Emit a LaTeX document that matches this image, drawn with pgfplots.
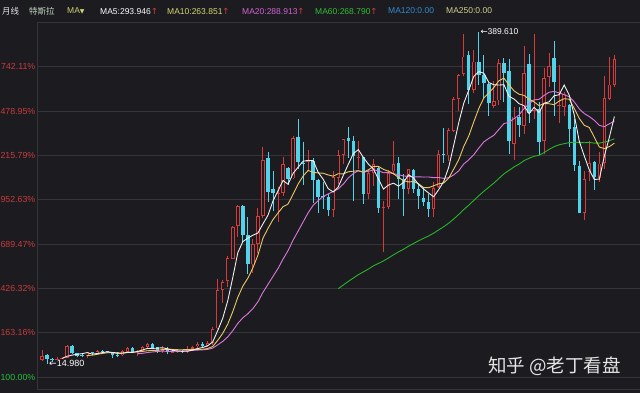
\documentclass[border=0pt]{standalone}
\usepackage{fontspec}
\setmainfont{Liberation Sans}
\newfontfamily\cjk{Noto Sans CJK SC}
\newfontfamily\dejavu{DejaVu Sans}
\usepackage{pgfplots}
\usepackage{pgfplotstable}
\pgfplotsset{compat=1.18}
\definecolor{bg}{RGB}{27,27,32}
\definecolor{gridc}{RGB}{52,52,58}
\definecolor{upc}{RGB}{214,58,58}
\definecolor{dnc}{RGB}{80,212,236}
\definecolor{ma5}{RGB}{240,240,240}
\definecolor{ma10}{RGB}{236,200,100}
\definecolor{ma20}{RGB}{222,120,222}
\definecolor{ma60}{RGB}{40,180,40}
\definecolor{tickred}{RGB}{200,60,60}
\definecolor{tickgreen}{RGB}{40,190,60}
\definecolor{hdr10}{RGB}{215,215,110}
\definecolor{hdr20}{RGB}{210,100,210}
\definecolor{hdr60}{RGB}{50,190,50}
\definecolor{hdr120}{RGB}{50,140,210}
\definecolor{hdr250}{RGB}{210,210,140}
\definecolor{hdrma}{RGB}{210,210,120}

% rising months (hollow red)
\pgfplotstableread{
i o h l c
0 19.00 30.42 17.54 23.83
3 19.70 22.15 19.30 20.41
4 20.50 22.00 20.00 21.84
5 21.90 36.42 21.20 35.33
9 23.90 28.60 21.70 27.75
11 27.30 30.80 26.30 29.80
16 24.30 30.50 23.20 29.00
17 28.80 34.00 27.50 32.70
19 28.90 30.00 24.00 29.07
20 29.10 35.00 28.60 33.47
21 33.60 38.00 33.00 37.24
24 29.50 34.60 27.00 31.29
26 28.00 30.50 26.90 28.52
27 28.70 30.50 27.10 29.28
29 28.30 34.50 27.50 32.13
30 32.00 35.00 31.50 33.87
31 35.00 39.50 33.30 37.51
33 35.00 41.20 33.70 37.89
34 38.30 56.00 36.30 53.99
35 54.80 110.33 54.50 97.76
36 98.00 109.90 83.50 107.47
37 108.00 136.90 101.80 134.28
38 133.60 170.80 133.00 169.00
39 170.00 193.90 158.00 193.37
42 127.00 156.00 117.30 150.43
43 149.80 190.80 139.60 181.41
44 182.00 260.00 179.00 244.81
47 206.00 214.00 175.00 207.77
48 208.00 248.00 204.00 240.06
50 224.00 272.00 223.00 269.70
53 243.00 256.00 233.00 244.52
58 189.00 232.00 180.00 226.05
59 225.00 256.00 218.00 250.80
60 251.00 268.50 240.00 268.26
63 248.00 266.00 235.00 248.40
65 207.00 235.00 201.00 230.26
66 230.00 246.00 216.00 240.01
68 191.00 199.00 141.05 191.93
69 192.00 234.00 190.00 229.77
70 232.00 266.00 228.00 240.76
73 212.00 235.00 206.00 234.79
78 190.00 220.00 181.00 213.69
79 214.00 256.00 213.00 251.93
81 250.00 281.00 244.00 278.30
82 278.00 316.00 277.00 314.07
83 314.00 342.00 300.00 341.01
84 342.00 387.00 340.00 361.61
86 324.00 369.00 320.00 355.90
90 306.00 334.00 303.00 311.35
91 312.00 359.00 307.00 354.31
94 263.00 305.00 244.60 293.90
96 283.00 373.00 274.00 342.95
98 300.00 387.46 291.00 301.66
100 266.00 349.00 251.30 337.32
101 339.00 366.00 327.00 350.48
103 306.00 352.00 287.00 307.02
104 305.00 322.00 295.00 319.88
108 185.00 233.00 177.00 223.46
109 231.00 266.00 221.00 241.61
111 224.00 254.00 220.00 240.87
112 242.00 340.00 235.00 314.92
113 314.00 361.00 313.00 329.94
114 330.00 363.00 327.00 358.39
}\upT

% falling months (filled cyan)
\pgfplotstableread{
i o h l c
1 25.00 25.92 14.98 19.94
2 20.50 21.55 17.40 19.48
6 35.40 35.90 25.90 26.63
7 26.80 27.40 22.30 24.10
8 24.60 25.90 22.60 23.90
10 27.90 28.60 24.80 27.04
12 29.90 30.50 26.00 29.13
13 29.30 29.90 26.70 28.23
14 28.40 28.60 21.60 24.55
15 24.60 28.40 22.80 24.39
18 32.40 33.40 26.90 28.56
22 37.00 38.00 32.00 33.25
23 33.50 34.00 27.60 29.80
25 31.30 34.00 25.50 27.90
28 29.30 30.00 26.80 28.13
32 37.60 39.80 32.50 34.93
40 193.50 194.50 151.20 159.94
41 160.30 180.10 116.10 127.28
45 247.00 254.00 198.00 208.45
46 212.00 233.00 187.00 207.89
49 236.00 236.50 217.00 223.30
51 271.00 291.40 235.00 242.68
52 242.00 265.00 217.00 241.70
54 244.00 247.00 196.00 222.41
55 222.00 223.00 185.00 203.60
56 204.00 220.00 190.00 203.34
57 203.00 206.00 181.40 188.77
61 270.00 282.00 247.00 266.15
62 266.00 272.00 199.00 249.06
64 248.00 248.50 195.00 206.93
67 236.00 238.00 185.00 191.20
71 241.00 248.00 201.00 223.23
72 223.00 229.00 182.00 212.28
74 234.00 235.00 208.00 212.01
75 212.00 219.00 190.00 204.03
76 202.00 214.00 193.00 197.73
77 198.00 207.00 181.00 189.40
80 252.00 281.00 242.00 249.99
85 363.00 368.00 308.00 323.47
87 355.00 389.61 329.00 341.10
88 341.00 363.00 315.00 331.53
89 331.00 332.00 295.00 308.85
92 354.00 360.00 310.00 343.06
93 345.00 359.00 252.00 266.13
95 293.00 305.00 271.00 284.73
97 353.00 364.00 287.00 298.14
99 302.00 310.00 250.60 264.77
102 360.00 379.50 295.00 332.80
105 307.00 307.50 259.00 279.86
106 282.00 291.00 233.00 238.69
107 238.00 244.00 185.00 185.16
110 243.00 244.00 211.00 225.61
}\dnT

\pgfplotstableread{
i v
4 21.10
5 23.40
6 24.74
7 25.66
8 26.36
9 27.54
10 25.88
11 26.52
12 27.52
13 28.39
14 27.75
15 27.22
16 27.06
17 27.77
18 27.84
19 28.74
20 30.56
21 32.21
22 32.32
23 32.57
24 33.01
25 31.90
26 30.15
27 29.36
28 29.02
29 29.19
30 30.39
31 32.18
32 33.31
33 35.27
34 39.64
35 52.42
36 66.41
37 86.28
38 112.50
39 140.38
40 152.81
41 156.77
42 160.00
43 162.49
44 172.77
45 182.48
46 198.60
47 210.07
48 221.80
49 217.49
50 229.74
51 236.70
52 243.49
53 244.38
54 244.20
55 230.98
56 223.11
57 212.53
58 208.83
59 214.51
60 227.44
61 240.01
62 252.06
63 256.53
64 247.76
65 240.16
66 234.93
67 223.36
68 212.07
69 216.63
70 218.73
71 215.38
72 219.59
73 228.17
74 224.61
75 217.27
76 212.17
77 207.59
78 203.37
79 211.36
80 220.55
81 236.66
82 261.60
83 287.06
84 309.00
85 323.69
86 339.21
87 344.62
88 342.72
89 332.17
90 329.75
91 329.43
92 329.82
93 316.74
94 313.75
95 308.43
96 306.15
97 297.17
98 304.28
99 298.45
100 308.97
101 310.47
102 317.41
103 318.48
104 329.50
105 318.01
106 295.65
107 266.12
108 249.41
109 233.76
110 222.91
111 223.34
112 249.29
113 270.59
114 293.95
}\maFive

\pgfplotstableread{
i v
9 24.32
10 24.64
11 25.63
12 26.59
13 27.38
14 27.65
15 26.55
16 26.79
17 27.65
18 28.12
19 28.25
20 28.89
21 29.63
22 30.05
23 30.20
24 30.88
25 31.23
26 31.18
27 30.84
28 30.80
29 31.10
30 31.14
31 31.17
32 31.34
33 32.15
34 34.42
35 41.40
36 49.30
37 59.80
38 73.88
39 90.01
40 102.61
41 111.59
42 123.14
43 137.49
44 156.58
45 167.64
46 177.69
47 185.04
48 192.14
49 195.13
50 206.11
51 217.65
52 226.78
53 233.09
54 230.85
55 230.36
56 229.91
57 228.01
58 226.61
59 229.36
60 229.21
61 231.56
62 232.30
63 232.68
64 231.14
65 233.80
66 237.47
67 237.71
68 234.30
69 232.20
70 229.45
71 225.16
72 221.48
73 220.12
74 220.62
75 218.00
76 213.77
77 213.59
78 215.77
79 217.99
80 218.91
81 224.42
82 234.59
83 245.22
84 260.18
85 272.12
86 287.94
87 303.11
88 314.89
89 320.58
90 326.72
91 334.32
92 337.22
93 329.73
94 322.96
95 319.09
96 317.79
97 313.50
98 310.51
99 306.10
100 308.70
101 308.31
102 307.29
103 311.38
104 313.98
105 313.49
106 303.06
107 291.76
108 283.94
109 281.63
110 270.46
111 259.50
112 257.71
113 260.00
114 263.85
}\maTen

\pgfplotstableread{
i v
19 26.28
20 26.77
21 27.63
22 28.32
23 28.79
24 29.26
25 28.89
26 28.98
27 29.24
28 29.46
29 29.67
30 30.02
31 30.40
32 30.69
33 31.17
34 32.65
35 36.31
36 40.24
37 45.32
38 52.34
39 60.55
40 66.88
41 71.38
42 77.24
43 84.82
44 95.50
45 104.52
46 113.49
47 122.42
48 133.01
49 142.57
50 154.36
51 164.62
52 174.96
53 185.29
54 193.71
55 199.00
56 203.80
57 206.52
58 209.37
59 212.25
60 217.66
61 224.61
62 229.54
63 232.89
64 230.99
65 232.08
66 233.69
67 232.86
68 230.45
69 230.78
70 229.33
71 228.36
72 226.89
73 226.40
74 225.88
75 225.90
76 225.62
77 225.65
78 225.03
79 225.09
80 224.18
81 224.79
82 228.04
83 232.67
84 240.40
85 245.06
86 250.86
87 258.35
88 265.33
89 269.28
90 272.81
91 279.37
92 285.91
93 287.47
94 291.57
95 295.60
96 302.86
97 308.30
98 312.70
99 313.34
100 317.71
101 321.32
102 322.25
103 320.55
104 318.47
105 316.29
106 310.43
107 302.63
108 297.23
109 293.86
110 289.58
111 283.91
112 282.50
113 285.69
114 288.91
}\maTwenty

\pgfplotstableread{
i v
59 99.69
60 103.77
61 107.87
62 111.70
63 115.50
64 118.58
65 121.83
66 125.39
67 128.17
68 130.97
69 134.34
70 137.90
71 141.13
72 144.18
73 147.62
74 150.75
75 153.74
76 156.55
77 159.16
78 162.25
79 165.96
80 169.57
81 173.59
82 178.27
83 183.46
84 188.96
85 193.89
86 199.34
87 204.54
88 209.60
89 214.21
90 218.84
91 224.12
92 229.25
93 233.05
94 237.05
95 240.17
96 244.09
97 246.83
98 249.04
99 250.23
100 253.18
101 256.90
102 259.94
103 262.04
104 263.29
105 264.48
106 264.99
107 264.61
108 264.34
109 264.64
110 263.91
111 263.88
112 265.10
113 266.52
114 268.79
}\maSixty

\pgfplotsset{
  candle/.style 2 args={draw=none, mark=none, forget plot,
    error bars/.cd, y dir=plus, y explicit, error mark=none,
    error bar style={draw=#1, line width=#2}},
}

\begin{document}
\begin{tikzpicture}[x=1pt,y=1pt]
\useasboundingbox (0,0) rectangle (640,393);
\fill[bg] (0,0) rectangle (640,393);
\begin{axis}[
  at={(37pt,4pt)}, anchor=south west,
  scale only axis, width=603pt, height=366.5pt,
  xmin=-1, xmax=119.1, ymin=-13.5, ymax=400,
  axis line style={gridc, line width=0.8pt},
  xtick=\empty,
  ytick={0,50,100,150,200,250,300,350},
  yticklabels={\textcolor{tickgreen}{100.00\%},163.16\%,426.32\%,689.47\%,952.63\%,215.79\%,478.95\%,742.11\%},
  yticklabel style={text=tickred, font=\fontsize{8.8}{10}\selectfont, inner sep=1.5pt},
  major tick length=0pt,
  ymajorgrids, grid style={gridc, line width=0.8pt},
  clip=true,
]
% wicks
\addplot[candle={upc}{0.9pt}]
  table[x=i, y=l, y error plus expr={\thisrow{h}-\thisrow{l}}] {\upT};
\addplot[candle={dnc}{0.9pt}]
  table[x=i, y=l, y error plus expr={\thisrow{h}-\thisrow{l}}] {\dnT};
% bodies
\addplot[candle={dnc}{3.4pt}]
  table[x=i, y=c, y error plus expr={\thisrow{o}-\thisrow{c}}] {\dnT};
\addplot[candle={upc}{3.4pt}]
  table[x=i, y=o, y error plus expr={\thisrow{c}-\thisrow{o}}] {\upT};
\addplot[candle={bg}{1.6pt}]
  table[x=i, y expr={\thisrow{o}+1.0}, y error plus expr={max(\thisrow{c}-\thisrow{o}-2.0,0)}] {\upT};
% moving averages
\addplot[ma60, line width=0.9pt, mark=none] table[x=i, y=v] {\maSixty};
\addplot[ma20, line width=0.9pt, mark=none] table[x=i, y=v] {\maTwenty};
\addplot[ma10, line width=0.9pt, mark=none] table[x=i, y=v] {\maTen};
\addplot[ma5, line width=0.9pt, mark=none] table[x=i, y=v] {\maFive};
% annotations
\node[anchor=west, inner sep=0pt, xshift=2pt, text=white, font=\fontsize{9}{10}\selectfont] at (axis cs:1,14.98) {{\dejavu ←}14.980};
\node[anchor=west, inner sep=0pt, xshift=1.5pt, text=white, font=\fontsize{8.5}{10}\selectfont] at (axis cs:87,389.61) {{\dejavu ←}389.610};
\end{axis}
% header
\begin{scope}[every node/.style={anchor=west, inner sep=0pt, font=\fontsize{8.5}{10}\selectfont}]
\node[text=white!80!gray] at (2,382) {\cjk 月线};
\node[text={rgb,255:red,195;green,215;blue,195}] at (29,382) {\cjk 特斯拉};
\node[text=hdrma] at (67,382) {MA{\dejavu\fontsize{6}{7}\selectfont ▼}};
\node[text=white] at (100,382) {MA5:293.946\textcolor{upc}{\dejavu ↑}};
\node[text=hdr10] at (167,382) {MA10:263.851\textcolor{upc}{\dejavu ↑}};
\node[text=hdr20] at (242,382) {MA20:288.913\textcolor{upc}{\dejavu ↑}};
\node[text=hdr60] at (315,382) {MA60:268.790\textcolor{upc}{\dejavu ↑}};
\node[text=hdr120] at (388,382) {MA120:0.00};
\node[text=hdr250] at (446,382) {MA250:0.00};
\end{scope}
% watermark
\node[anchor=west, inner sep=0pt, text={rgb,255:red,228;green,228;blue,228}, font=\cjk\fontsize{18.5}{20}\selectfont] at (488,27) {知乎 @老丁看盘};
\end{tikzpicture}
\end{document}
